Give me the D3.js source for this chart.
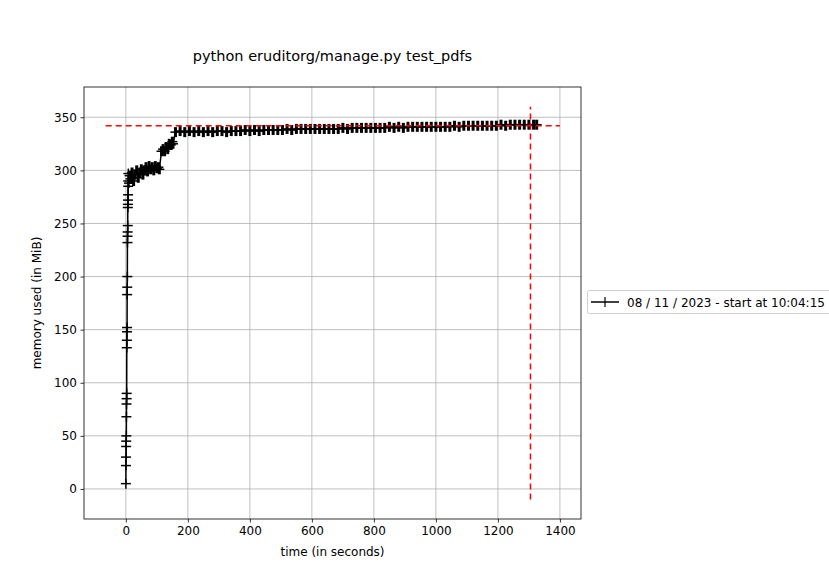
<!DOCTYPE html>
<html><head><meta charset="utf-8">
<script src="https://cdn.jsdelivr.net/npm/d3@7"></script>
<style>body{margin:0;background:#fff}text{font-family:"DejaVu Sans",sans-serif}</style>
</head><body><svg id="c" width="829" height="577"></svg>
<script>
const times=[0,0.3,0.6,0.9,1.2,1.5,1.8,2.1,2.4,2.7,3,3.3,3.6,3.9,4.2,4.5,4.8,5.1,5.4,5.7,6,6.3,6.6,6.9,7.2,7.5,7.8,8.1,
10,12,15,20,25,30,35,40,45,50,55,60,65,70,75,80,85,90,95,100,105,108,115,120,125,130,135,140,145,150,152,160,175,190,205,220,235,250,265,280,295,310,325,340,355,370,385,400,415,430,445,460,475,490,505,520,535,550,565,580,595,610,625,640,655,670,685,700,715,730,745,760,775,790,805,820,835,850,865,880,895,910,925,940,955,970,985,1000,1015,1030,1045,1060,1075,1090,1105,1120,1135,1150,1165,1180,1195,1210,1225,1240,1255,1270,1285,1300,1315,1325];
const memory=[5,22,30,40,45,50,68,80,85,90,133,140,148,152,183,190,200,232,238,242,248,265,268,272,277,285,290,297,
288,295,292,298,290,296,300,293,298,301,296,300,303,299,304,301,303,300,304,302,303,301,318,320,318,322,320,325,324,327,325,336,337,336,337,336,337,336,337,336,337,337,336,337,337,337,338,337,338,337,338,338,338,338,338,339,338,339,339,339,339,339,339,339,339,339,339,340,339,340,340,340,340,340,340,340,340,341,340,341,340,341,341,341,341,341,341,341,341,341,341,342,341,342,342,342,342,342,342,342,342,343,342,343,343,343,343,343,343,343,343];
const xTicks=[0,200,400,600,800,1000,1200,1400];
const yTicks=[0,50,100,150,200,250,300,350];
const maxMem=342, maxTime=1305;
const legendLabel="08 / 11 / 2023 - start at 10:04:15";
const title="python eruditorg/manage.py test_pdfs";

const svg=d3.select("#c");
const L=84,R=581,T=87,B=519;
const x=d3.scaleLinear().domain([-135,1468]).range([L,R]);
const y=d3.scaleLinear().domain([-28.3,378.5]).range([B,T]);
const g=svg.append("g");
g.selectAll(".gx").data(xTicks).join("line").attr("x1",d=>x(d)).attr("x2",d=>x(d)).attr("y1",T).attr("y2",B).attr("stroke","#b0b0b0").attr("stroke-width",0.8);
g.selectAll(".gy").data(yTicks).join("line").attr("y1",d=>y(d)).attr("y2",d=>y(d)).attr("x1",L).attr("x2",R).attr("stroke","#b0b0b0").attr("stroke-width",0.8);
const pts=times.map((t,i)=>[t,memory[i]]);
svg.append("path").datum(pts).attr("fill","none").attr("stroke","#000").attr("stroke-width",1.5)
 .attr("d",d3.line().x(d=>x(d[0])).y(d=>y(d[1])));
const mk=svg.append("g").attr("stroke","#000");
pts.forEach(p=>{const cx=x(p[0]),cy=y(p[1]);
 mk.append("line").attr("x1",cx-5).attr("x2",cx+5).attr("y1",cy).attr("y2",cy).attr("stroke-width",1.5);
 mk.append("line").attr("x1",cx).attr("x2",cx).attr("y1",cy-5).attr("y2",cy+5).attr("stroke-width",p[0]>10?3:1.5);});
svg.append("line").attr("x1",x(-65)).attr("x2",x(1400)).attr("y1",y(maxMem)).attr("y2",y(maxMem)).attr("stroke","red").attr("stroke-width",1.5).attr("stroke-dasharray","6,4");
svg.append("line").attr("x1",x(maxTime)).attr("x2",x(maxTime)).attr("y1",y(-10)).attr("y2",y(360)).attr("stroke","red").attr("stroke-width",1.5).attr("stroke-dasharray","6,4");
svg.append("rect").attr("x",L).attr("y",T).attr("width",R-L).attr("height",B-T).attr("fill","none").attr("stroke","#000").attr("stroke-width",0.8);
const xa=svg.append("g").attr("transform",`translate(0,${B})`).call(d3.axisBottom(x).tickValues(xTicks).tickFormat(d3.format("d")).tickSize(3.5).tickPadding(3.5));
const ya=svg.append("g").attr("transform",`translate(${L},0)`).call(d3.axisLeft(y).tickValues(yTicks).tickFormat(d3.format("d")).tickSize(3.5).tickPadding(3.5));
[xa,ya].forEach(a=>{a.select(".domain").remove();a.selectAll("text").attr("font-size",12).attr("fill","#000").style("font-family","DejaVu Sans");a.selectAll("line").attr("stroke","#000").attr("stroke-width",0.8);});
svg.append("text").attr("x",(L+R)/2).attr("y",556).attr("text-anchor","middle").attr("font-size",12).text("time (in seconds)");
svg.append("text").attr("transform",`translate(41,${(T+B)/2}) rotate(-90)`).attr("text-anchor","middle").attr("font-size",12).text("memory used (in MiB)");
svg.append("text").attr("x",(L+R)/2).attr("y",61).attr("text-anchor","middle").attr("font-size",14.5).text(title);
const lg=svg.append("g");
lg.append("rect").attr("x",587.5).attr("y",290.5).attr("width",260).attr("height",23).attr("rx",2).attr("fill","#fff").attr("stroke","#d0d0d0");
lg.append("line").attr("x1",591).attr("x2",619).attr("y1",302).attr("y2",302).attr("stroke","#000").attr("stroke-width",1.5);
lg.append("line").attr("x1",605).attr("x2",605).attr("y1",297).attr("y2",307).attr("stroke","#000").attr("stroke-width",1.2);
lg.append("text").attr("x",627).attr("y",306.5).attr("font-size",12).text(legendLabel);
</script></body></html>
